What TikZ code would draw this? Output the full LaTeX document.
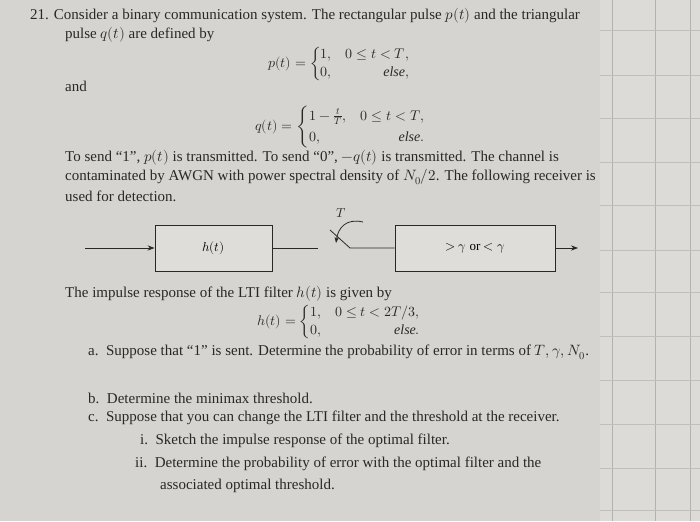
\documentclass[tikz,border=0pt]{standalone}
\usepackage{fontspec}
\setmainfont{Liberation Serif}
\usepackage{amsmath}
\usepackage{unicode-math}
\setmathfont{Latin Modern Math}
\usetikzlibrary{arrows.meta}
\definecolor{paper}{RGB}{214,212,208}
\definecolor{ink}{RGB}{40,40,40}
\begin{document}
\begin{tikzpicture}[x=1pt,y=-1pt,
  txt/.style={anchor=west,inner sep=0,font=\fontsize{15}{17}\selectfont,text=ink},
  eq/.style={txt,font=\fontsize{14}{15}\selectfont},
  blk/.style={draw=ink,line width=0.9pt,fill=paper!80!white},
  wire/.style={draw=ink,line width=0.8pt},
  arr/.style={wire,-{Stealth[length=7pt]}}]
\fill[paper] (0,0) rectangle (700,521);
\useasboundingbox (0,0) rectangle (700,521);
\fill[paper!85!white] (600,0) rectangle (700,521);
\foreach \x in {612,655,690} \draw[gray!60,line width=0.5pt] (\x,0) -- (\x,521);
\foreach \y in {30,75,118,162,205,250,292,336,380,424,468,510} \draw[gray!50,line width=0.4pt] (600,\y) -- (700,\y);
\node[txt] (l1) at (30,16) {21. Consider a binary communication system. The rectangular pulse $p(t)$ and the triangular};
\node[txt] (l2) at (65,35) {pulse $q(t)$ are defined by};
\node[eq] (pe) at (268,64) {$p(t)=\begin{cases}1, & 0\le t<T,\\ 0, & \hfill \textit{else},\end{cases}$};
\node[txt] (and) at (65,86) {and};
\node[eq] (qe) at (255,127) {$q(t)=\begin{cases}1-\genfrac{}{}{}{1}{t}{T}, & 0\le t<T,\\[3pt] 0, & \hfill \textit{else}.\end{cases}$};
\node[txt] (l3) at (65,158) {To send “1”, $p(t)$ is transmitted. To send “0”, $-q(t)$ is transmitted. The channel is};
\node[txt] (l4) at (65,177) {contaminated by AWGN with power spectral density of $N_0/2$. The following receiver is};
\node[txt] (l5) at (65,196) {used for detection.};
% diagram
\node[blk,minimum width=117pt,minimum height=46pt,font=\fontsize{13}{15}\selectfont] (h) at (213.5,248) {$h(t)$};
\node[blk,minimum width=160pt,minimum height=46pt,font=\fontsize{13}{15}\selectfont] (d) at (475,248) {$>\gamma$ or $<\gamma$};
\coordinate (in) at (85,248);
\coordinate (out) at (578,248);
\coordinate (s1) at (318,248);
\coordinate (s2) at (350,248);
\coordinate (s3) at (330,230);
\draw[arr] (in) -- (h.west);
\draw[wire] (h.east) -- (s1);
\draw[wire] (s3) -- (s2) -- (d.west);
\draw[arr] (d.east) -- (out);
\draw[wire,-{Stealth[length=6pt]}] (363,222) .. controls (346,218) and (338,228) .. (336,243);
\node[txt,font=\fontsize{13}{15}\selectfont] (T) at (336,213) {$T$};
\node[txt] (l6) at (65,294) {The impulse response of the LTI filter $h(t)$ is given by};
\node[eq] (he) at (257,322) {$h(t)=\begin{cases}1, & 0\le t<2T/3,\\ 0, & \hfill \textit{else}.\end{cases}$};
\node[txt] (a) at (88,352) {a.\enspace Suppose that “1” is sent. Determine the probability of error in terms of $T,\gamma,N_0$.};
\node[txt] (b) at (88,398) {b.\enspace Determine the minimax threshold.};
\node[txt] (c) at (88,418) {c.\enspace Suppose that you can change the LTI filter and the threshold at the receiver.};
\node[txt] (ci) at (140,441) {i.\enspace Sketch the impulse response of the optimal filter.};
\node[txt] (cii) at (135,464) {ii.\enspace Determine the probability of error with the optimal filter and the};
\node[txt] (ciii) at (160,486) {associated optimal threshold.};
\end{tikzpicture}
\end{document}
